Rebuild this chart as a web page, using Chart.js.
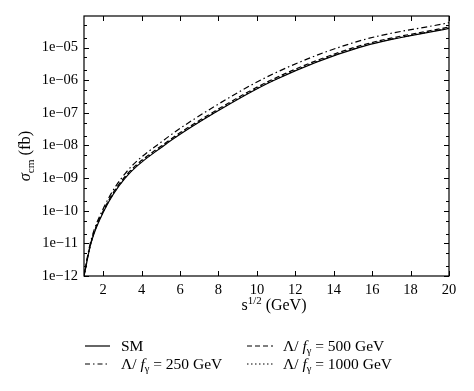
<!DOCTYPE html>
<html>
<head>
<meta charset="utf-8">
<script src="https://cdn.jsdelivr.net/npm/chart.js@4/dist/chart.umd.min.js"></script>
<style>
html,body{margin:0;padding:0;background:#fff;}
canvas{display:block;}
</style>
</head>
<body>
<canvas id="c" width="474" height="391"></canvas>
<script>
// ---- data (x positions where curves cross decades) ----
const xs      = [1, 1.36, 2.04, 3.14, 5.17, 7.8, 10.9, 15.3, 20];
const sm      = [1.0e-12, 1.0e-11, 1.0e-10, 1.0e-9, 1.0e-8, 1.0e-7, 1.0e-6, 1.0e-5, 3.9e-5];
const f250    = [1.1e-12, 1.2e-11, 1.29e-10, 1.38e-9, 1.48e-8, 1.58e-7, 1.62e-6, 1.58e-5, 5.8e-5];
const f500    = [1.03e-12, 1.06e-11, 1.1e-10, 1.12e-9, 1.12e-8, 1.12e-7, 1.12e-6, 1.11e-5, 4.3e-5];
const f1000   = [1.01e-12, 1.02e-11, 1.03e-10, 1.035e-9, 1.035e-8, 1.035e-7, 1.035e-6, 1.03e-5, 4.0e-5];
const xTicks  = [2, 4, 6, 8, 10, 12, 14, 16, 18, 20];
const yTicks  = [1e-12, 1e-11, 1e-10, 1e-9, 1e-8, 1e-7, 1e-6, 1e-5];
const legendLabels = ['SM', '250', '500', '1000'];

const FONT = '"Liberation Serif", "DejaVu Serif", serif';

function pts(arr){ return xs.map((x,i)=>({x:x, y:arr[i]})); }

function drawRich(ctx, x, y, segs, size, align){
  let total = 0;
  const m = segs.map(s=>{
    const fs = (s.sub||s.sup) ? size*0.68 : size;
    const f = (s.it?'italic ':'') + fs + 'px ' + FONT;
    ctx.font = f;
    const w = ctx.measureText(s.t).width;
    total += w;
    return {s, f, w, fs};
  });
  let cx = align==='center' ? x - total/2 : x;
  ctx.textAlign='left';
  ctx.textBaseline='alphabetic';
  m.forEach(o=>{
    ctx.font = o.f;
    let dy = 0;
    if(o.s.sub) dy = size*0.22;
    if(o.s.sup) dy = -size*0.38;
    ctx.fillText(o.s.t, cx, y+dy);
    cx += o.w;
  });
  return total;
}

const framePlugin = {
  id:'frame',
  afterDraw(chart){
    const {ctx, chartArea:a, scales} = chart;
    const xs_ = scales.x, ys_ = scales.y;
    ctx.save();
    ctx.strokeStyle='#000';
    ctx.fillStyle='#000';
    ctx.lineWidth=1.2;
    ctx.strokeRect(a.left, a.top, a.right-a.left, a.bottom-a.top);
    ctx.lineWidth=1;
    ctx.beginPath();
    xTicks.forEach(v=>{
      const px = Math.round(xs_.getPixelForValue(v))+0.5;
      ctx.moveTo(px, a.bottom); ctx.lineTo(px, a.bottom-5);
      ctx.moveTo(px, a.top); ctx.lineTo(px, a.top+5);
    });
    for(let e=-12; e<=-4; e++){
      [[1,5],[2,3],[5,3]].forEach(([m,len])=>{
        const v = m*Math.pow(10,e);
        if(v < ys_.min*0.999 || v > ys_.max) return;
        const py = Math.round(ys_.getPixelForValue(v))+0.5;
        ctx.moveTo(a.left, py); ctx.lineTo(a.left+len, py);
        ctx.moveTo(a.right, py); ctx.lineTo(a.right-len, py);
      });
    }
    ctx.stroke();

    // x title
    drawRich(ctx, 274, 310, [{t:'s'},{t:'1/2',sup:true},{t:' (GeV)'}], 16, 'center');

    // y title (rotated)
    ctx.save();
    ctx.translate(30, 156);
    ctx.rotate(-Math.PI/2);
    drawRich(ctx, 0, 0, [{t:'σ',it:true},{t:'cm',sub:true},{t:' (fb)'}], 16.5, 'center');
    ctx.restore();

    // legend
    const rows = [351, 369];
    const items = [
      {x1:85, x2:110, tx:121, y:rows[0], dash:[], segs:[{t:'SM'}]},
      {x1:85, x2:110, tx:121, y:rows[1], dash:[5,3,1.5,3], segs:[{t:'Λ/ '},{t:'f',it:true},{t:'γ',sub:true},{t:' = 250 GeV'}]},
      {x1:247, x2:273, tx:283, y:rows[0], dash:[5,3], segs:[{t:'Λ/ '},{t:'f',it:true},{t:'γ',sub:true},{t:' = 500 GeV'}]},
      {x1:247, x2:273, tx:283, y:rows[1], dash:[1.5,2.5], segs:[{t:'Λ/ '},{t:'f',it:true},{t:'γ',sub:true},{t:' = 1000 GeV'}]}
    ];
    items.forEach(it=>{
      ctx.beginPath();
      ctx.setLineDash(it.dash);
      ctx.lineWidth=1.2;
      ctx.moveTo(it.x1, it.y-5); ctx.lineTo(it.x2, it.y-5);
      ctx.stroke();
      ctx.setLineDash([]);
      drawRich(ctx, it.tx, it.y, it.segs, 15.5, 'left');
    });
    ctx.restore();
  }
};

const common = {fill:false, pointRadius:0, borderColor:'#000', borderWidth:1.2, cubicInterpolationMode:'monotone', showLine:true};

new Chart(document.getElementById('c'), {
  type:'scatter',
  data:{
    datasets:[
      Object.assign({label:legendLabels[1], data:pts(f250), borderDash:[6,3,1.5,3]}, common),
      Object.assign({label:legendLabels[2], data:pts(f500), borderDash:[5,3]}, common),
      Object.assign({label:legendLabels[3], data:pts(f1000), borderDash:[1.5,2.5]}, common),
      Object.assign({label:legendLabels[0], data:pts(sm), borderDash:[]}, common)
    ]
  },
  options:{
    responsive:false,
    animation:false,
    devicePixelRatio:1,
    layout:{padding:{top:16, right:25, bottom:0, left:0}},
    plugins:{legend:{display:false}, tooltip:{enabled:false}},
    scales:{
      x:{
        type:'linear', min:1, max:20,
        grid:{display:false, drawTicks:false},
        border:{display:false},
        afterBuildTicks(s){ s.ticks = xTicks.map(v=>({value:v})); },
        afterFit(s){ s.height = 115; },
        ticks:{color:'#000', font:{family:FONT, size:14.5}, padding:5, maxRotation:0, autoSkip:false}
      },
      y:{
        type:'logarithmic', min:1e-12, max:9.3e-5,
        grid:{display:false, drawTicks:false},
        border:{display:false},
        afterBuildTicks(s){ s.ticks = yTicks.map(v=>({value:v, major:true})); },
        afterFit(s){ s.width = 84; },
        ticks:{
          color:'#000', font:{family:FONT, size:14.5}, padding:6, autoSkip:false,
          callback(v){ const e = Math.round(Math.log10(v)); return '1e−' + String(-e).padStart(2,'0'); }
        }
      }
    }
  },
  plugins:[framePlugin]
});
</script>
</body>
</html>
